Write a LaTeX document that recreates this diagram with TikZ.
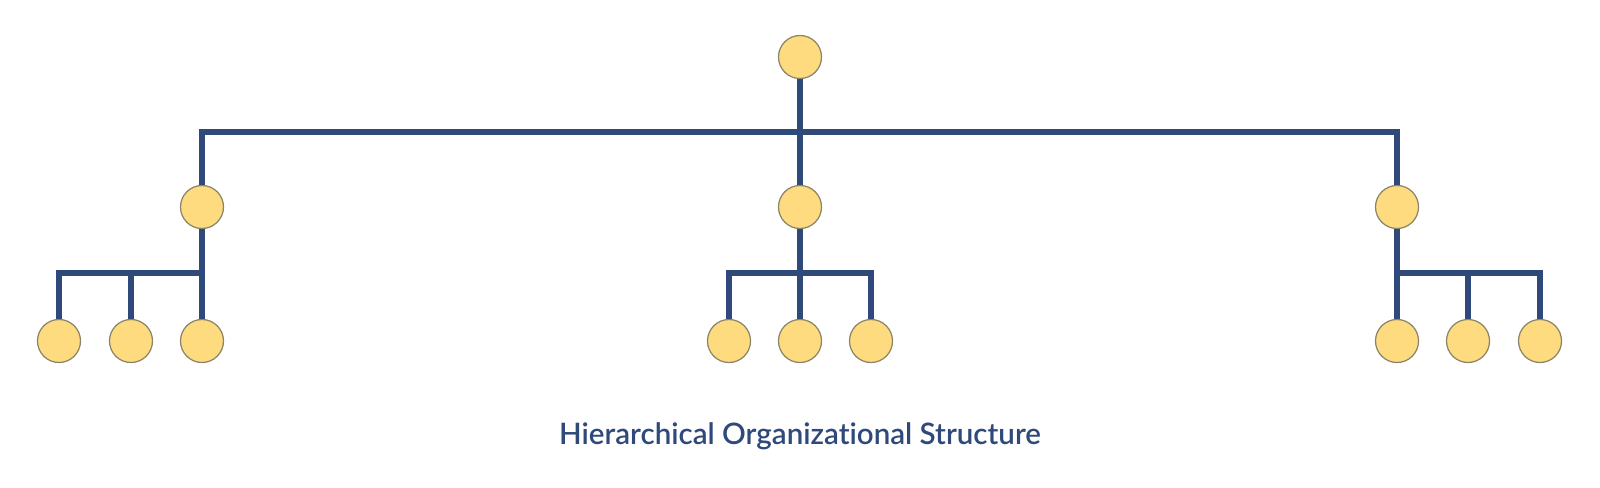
\documentclass[tikz,border=0pt]{standalone}
\usepackage{fontspec}
\setmainfont{Lato}
\newfontfamily\capfont{Lato Semibold}[Ligatures=NoCommon]
\definecolor{navy}{HTML}{2F4A7A}
\definecolor{gold}{HTML}{FDDB7E}
\definecolor{rim}{HTML}{8A8468}

\begin{document}
\begin{tikzpicture}[x=0.01cm,y=-0.01cm,
  member/.style={circle,draw=rim,fill=gold,line width=0.35pt,minimum size=0.43cm,inner sep=0pt},
  link/.style={navy,line width=1.45pt}]
\useasboundingbox (0,0) rectangle (1600,488);

% the people
\node[member] (top) at (800,57) {};
\foreach \n/\x in {a/202,b/800,c/1397}
  \node[member] (\n) at (\x,207) {};
\foreach \n/\x in {a1/59,a2/131,a3/202,b1/729,b2/800,b3/871,c1/1397,c2/1468,c3/1540}
  \node[member] (\n) at (\x,341) {};

% junctions
\coordinate (j) at (800,132);
\coordinate (ja) at (202,273);
\coordinate (jb) at (800,273);
\coordinate (jc) at (1397,273);

% top level
\draw[link] (a) |- (j) -| (c);
\draw[link] (top) -- (b);

% left group
\draw[link] (a) -- (a3);
\draw[link] (a1) |- (ja);
\draw[link] (a2) -- (a2 |- ja);

% middle group
\draw[link] (b) -- (b2);
\draw[link] (b1) |- (jb) -| (b3);

% right group
\draw[link] (c) -- (c1);
\draw[link] (c3) |- (jc);
\draw[link] (c2) -- (c2 |- jc);

% caption
\node[text=navy,font=\capfont\fontsize{8.4}{10}\selectfont] (title) at (800,436) {Hierarchical Organizational Structure};
\end{tikzpicture}
\end{document}
